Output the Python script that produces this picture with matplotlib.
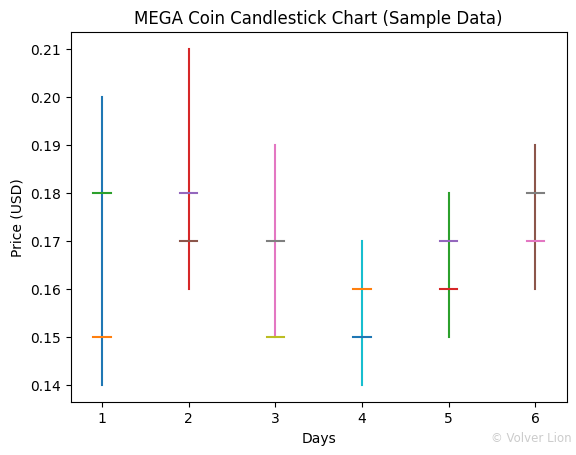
import matplotlib
matplotlib.use("Agg")
import matplotlib.pyplot as plt

days = [1, 2, 3, 4, 5, 6]
opens = [0.15, 0.18, 0.17, 0.15, 0.16, 0.17]
highs = [0.20, 0.21, 0.19, 0.17, 0.18, 0.19]
lows = [0.14, 0.16, 0.15, 0.14, 0.15, 0.16]
closes = [0.18, 0.17, 0.15, 0.16, 0.17, 0.18]

fig = plt.figure(figsize=(5.76, 4.55), dpi=100)
ax = fig.add_axes([70.7 / 576, (455 - 402.3) / 455, 496 / 576, 370 / 455])

for d, o, h, l, c in zip(days, opens, highs, lows, closes):
    ax.plot([d, d], [l, h])
    ax.plot([d - 0.1, d + 0.1], [o, o])
    ax.plot([d - 0.1, d + 0.1], [c, c])

ax.set_title("MEGA Coin Candlestick Chart (Sample Data)")
ax.set_xlabel("Days")
ax.set_ylabel("Price (USD)")

fig.text(572 / 576, (455 - 438) / 455, "\u00a9 Volver Lion", color="#cccccc",
         fontsize=8.5, ha="right", va="center")

fig.savefig("out.png", dpi=100)
